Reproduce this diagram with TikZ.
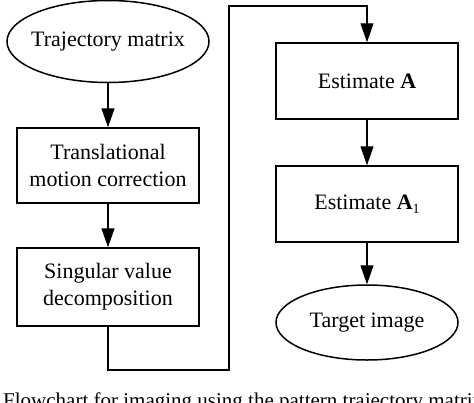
\documentclass[tikz,border=0pt]{standalone}
\usepackage{fontspec}
\setmainfont{Liberation Serif}
\usetikzlibrary{shapes.geometric,arrows.meta}
\begin{document}
\begin{tikzpicture}[x=1pt,y=-1pt,
  every node/.style={font=\fontsize{22}{27}\selectfont, align=center, inner sep=0pt},
  procbox/.style={draw, line width=1.5pt, rectangle, minimum width=182pt, minimum height=76pt},
  termnode/.style={draw, line width=1.5pt, ellipse},
  flow/.style={line width=1.2pt, -{Triangle[length=19pt,width=13pt]}}]
\useasboundingbox (0,0) rectangle (474,402);
\clip (0,0) rectangle (474,402);
\node[termnode, inner xsep=-7pt, minimum width=202pt, minimum height=82pt] (traj) at (108,41.5) {Trajectory matrix};
\node[procbox, minimum height=75pt] (trans) at (108,165.5) {Translational\\motion correction};
\node[procbox, minimum height=78pt] (svd) at (108,287) {Singular value\\decomposition};
\node[procbox] (estA) at (367,81) {Estimate \textbf{A}};
\node[procbox] (estA1) at (367,204) {Estimate \textbf{A}\raisebox{-0.35ex}{\fontsize{14}{14}\selectfont 1}};
\node[termnode, minimum width=182pt, minimum height=75pt] (target) at (367,322.5) {Target image};
\coordinate (c1) at (229,370);
\coordinate (c2) at (229,6);
\draw[flow] (traj) -- (trans);
\draw[flow] (trans) -- (svd);
\draw[flow] (svd.south) |- (c1) -- (c2) -| (estA.north);
\draw[flow] (estA) -- (estA1);
\draw[flow] (estA1) -- (target);
\node[anchor=base west, font=\fontsize{21}{26}\selectfont] (cap) at (3,407.5) {Flowchart for imaging using the pattern trajectory matrix};
\end{tikzpicture}
\end{document}
